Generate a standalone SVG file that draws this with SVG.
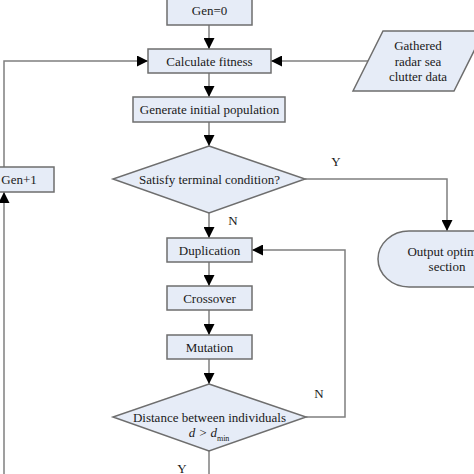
<svg xmlns="http://www.w3.org/2000/svg" width="474" height="474" viewBox="0 0 474 474">
<defs>
<marker id="arr" markerWidth="11" markerHeight="11" refX="11" refY="5.5" orient="auto" markerUnits="userSpaceOnUse">
<path d="M0,0 L11,5.5 L0,11 z" fill="#000"/>
</marker>
<style>
.n{fill:#E6ECF7;stroke:#6E6E6E;stroke-width:1.5}
.t{font-family:"Liberation Serif","Times New Roman",serif;font-size:13px;fill:#1A1A1A;text-anchor:middle}
.c{fill:none;stroke:#7F7F7F;stroke-width:1.5}
.a{marker-end:url(#arr)}
</style>
</defs>
<rect width="474" height="474" fill="#fff"/>
<g id="connectors">
<line class="c a" x1="209" y1="25" x2="209" y2="49"/>
<line class="c a" x1="209" y1="73" x2="209" y2="97"/>
<line class="c a" x1="209" y1="122" x2="209" y2="146"/>
<line class="c a" x1="209" y1="213" x2="209" y2="238"/>
<line class="c a" x1="209" y1="262" x2="209" y2="286"/>
<line class="c a" x1="209" y1="310" x2="209" y2="335"/>
<line class="c a" x1="209" y1="359" x2="209" y2="384"/>
<line class="c" x1="209" y1="451" x2="209" y2="474"/>
<polyline class="c a" points="305,179 447,179 447,231"/>
<line class="c a" x1="368" y1="61" x2="271" y2="61"/>
<polyline class="c a" points="306,417 345,417 345,250 252,250"/>
<line class="c a" x1="4" y1="474" x2="4" y2="192"/>
<polyline class="c a" points="4,167 4,61 148,61"/>
</g>
<g id="gen0">
<rect class="n" x="167" y="-5" width="85" height="30"/>
<text class="t" x="209.5" y="15">Gen=0</text>
</g>
<g id="calc">
<rect class="n" x="148" y="49" width="123" height="24"/>
<text class="t" x="209.5" y="65.5">Calculate fitness</text>
</g>
<g id="data">
<polygon class="n" points="383,31 484,31 454,91 353,91"/>
<text class="t" x="418" y="49.5">Gathered</text>
<text class="t" x="418" y="66">radar sea</text>
<text class="t" x="418" y="80.5">clutter data</text>
</g>
<g id="init">
<rect class="n" x="133" y="97" width="152" height="25"/>
<text class="t" x="209.5" y="114">Generate initial population</text>
</g>
<g id="cond">
<polygon class="n" points="209,146 305,179 209,213 113,179"/>
<text class="t" x="209.5" y="183.5">Satisfy terminal condition?</text>
</g>
<text class="t" x="336" y="165.5">Y</text>
<text class="t" x="233" y="224.5">N</text>
<g id="genplus">
<rect class="n" x="-16" y="167" width="70" height="25"/>
<text class="t" x="19" y="184">Gen+1</text>
</g>
<g id="output">
<path class="n" d="M409,231 L520,231 L520,287 L409,287 A31,28 0 0 1 409,231 Z"/>
<text class="t" x="447" y="256">Output optimal</text>
<text class="t" x="447" y="271">section</text>
</g>
<g id="dup">
<rect class="n" x="167" y="238" width="85" height="24"/>
<text class="t" x="209.5" y="254.5">Duplication</text>
</g>
<g id="cross">
<rect class="n" x="167" y="286" width="85" height="24"/>
<text class="t" x="209.5" y="302.5">Crossover</text>
</g>
<g id="mut">
<rect class="n" x="167" y="335" width="85" height="24"/>
<text class="t" x="209.5" y="351.5">Mutation</text>
</g>
<g id="dist">
<polygon class="n" points="209,384 306,417 209,451 113,417"/>
<text class="t" x="209.5" y="421.5">Distance between individuals</text>
<text class="t" x="209" y="437" style="font-style:italic">d &gt; d<tspan style="font-style:normal;font-size:8px" dy="4">min</tspan></text>
</g>
<text class="t" x="319" y="397.5">N</text>
<text class="t" x="182" y="473">Y</text>
</svg>
